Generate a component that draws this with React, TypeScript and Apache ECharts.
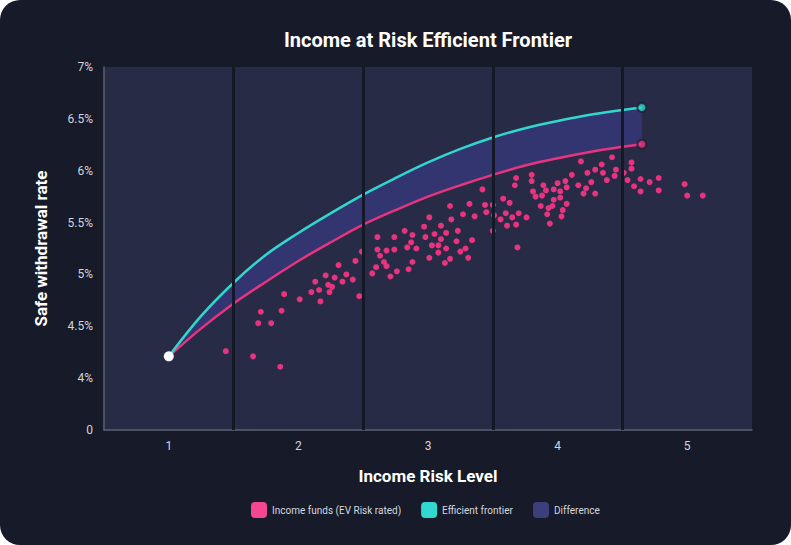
import React, { useEffect, useRef } from 'react';
import * as echarts from 'echarts';

// frontier curves (income risk level -> safe withdrawal rate %)
const curveX = [1, 1.25, 1.5, 1.75, 2, 2.25, 2.5, 2.75, 3, 3.25, 3.5, 3.75, 4, 4.25, 4.5, 4.65];
const fundsCurve = [4.21, 4.48, 4.72, 4.93, 5.13, 5.31, 5.48, 5.62, 5.75, 5.86, 5.96, 6.05, 6.12, 6.18, 6.23, 6.255];
const frontierCurve = [4.21, 4.6, 4.92, 5.19, 5.4, 5.59, 5.77, 5.93, 6.08, 6.21, 6.32, 6.41, 6.48, 6.54, 6.585, 6.61];

// individual income funds
const fundPoints: number[][] = [
  [1.44, 4.26], [1.65, 4.21], [1.86, 4.11], [1.71, 4.64], [1.69, 4.53], [1.79, 4.53],
  [1.87, 4.65], [1.89, 4.81], [2.01, 4.76], [2.1, 4.83], [2.13, 4.93], [2.16, 4.85],
  [2.17, 4.74], [2.21, 4.99], [2.23, 4.9], [2.24, 4.83], [2.26, 4.88], [2.28, 4.97],
  [2.31, 5.09], [2.34, 4.93], [2.37, 5.0], [2.42, 4.95], [2.44, 5.13], [2.49, 5.22],
  [2.47, 4.79], [2.57, 5.01], [2.6, 5.07], [2.61, 5.24], [2.61, 5.36], [2.63, 5.18],
  [2.66, 5.12], [2.68, 5.08], [2.68, 5.23], [2.71, 4.98], [2.74, 5.36], [2.74, 5.24],
  [2.76, 5.03], [2.82, 5.42], [2.84, 5.26], [2.87, 5.31], [2.88, 5.38], [2.88, 5.12],
  [2.85, 5.05], [2.91, 5.25], [2.97, 5.46], [2.98, 5.36], [3.01, 5.55], [3.01, 5.16],
  [3.03, 5.28], [3.05, 5.39], [3.08, 5.21], [3.08, 5.28], [3.1, 5.47], [3.1, 5.34],
  [3.13, 5.11], [3.14, 5.4], [3.14, 5.25], [3.17, 5.66], [3.17, 5.15], [3.18, 5.53],
  [3.22, 5.32], [3.23, 5.42], [3.25, 5.22], [3.27, 5.58], [3.29, 5.25], [3.31, 5.16],
  [3.32, 5.68], [3.34, 5.33], [3.36, 5.56], [3.42, 5.82], [3.44, 5.67], [3.45, 5.6],
  [3.5, 5.67], [3.5, 5.42], [3.51, 5.57], [3.56, 5.53], [3.58, 5.73], [3.6, 5.59],
  [3.61, 5.47], [3.63, 5.69], [3.65, 5.55], [3.67, 5.86], [3.68, 5.93], [3.68, 5.48],
  [3.69, 5.26], [3.7, 5.59], [3.76, 5.55], [3.8, 5.9], [3.8, 5.96], [3.81, 5.8],
  [3.83, 5.75], [3.87, 5.66], [3.88, 5.76], [3.89, 5.86], [3.91, 5.81], [3.92, 5.58],
  [3.93, 5.64], [3.94, 5.49], [3.96, 5.66], [3.97, 5.72], [3.97, 5.82], [4.0, 5.88],
  [4.02, 5.8], [4.02, 5.74], [4.03, 5.56], [4.04, 5.62], [4.06, 5.9], [4.07, 5.84],
  [4.07, 5.68], [4.11, 5.96], [4.16, 5.86], [4.18, 6.09], [4.2, 5.78], [4.22, 5.83],
  [4.23, 5.98], [4.26, 5.89], [4.29, 5.78], [4.29, 6.01], [4.34, 6.06], [4.35, 5.98],
  [4.38, 5.91], [4.42, 6.13], [4.44, 5.95], [4.45, 6.01], [4.51, 5.98], [4.54, 5.91],
  [4.57, 6.08], [4.57, 6.02], [4.59, 5.85], [4.64, 5.92], [4.64, 5.8], [4.71, 5.89],
  [4.78, 5.93], [4.78, 5.81], [4.98, 5.87], [5.0, 5.76], [5.12, 5.76],
];

// risk level band boundaries
const bandEdges = [1.5, 2.5, 3.5, 4.5];

const legendNames = ['Income funds (EV Risk rated)', 'Efficient frontier', 'Difference'];

const PINK = '#e8337f';
const TEAL = '#33d6cc';
const FONT = 'Roboto';
const SMOOTH = 0.35;

const App: React.FC = () => {
  const chartRef = useRef<HTMLDivElement>(null);

  useEffect(() => {
    const chart = echarts.init(chartRef.current!, null, { renderer: 'svg' });

    const last = curveX.length - 1;
    const pinkLine = curveX.map((x, i) => [x, fundsCurve[i]]);
    const tealLine = curveX.map((x, i) => [x, frontierCurve[i]]);
    // stacked band: value first so the stack runs on y, x read through encode
    const bandBase = curveX.map((x, i) => [fundsCurve[i], x]);
    const bandGap = curveX.map((x, i) => [+(frontierCurve[i] - fundsCurve[i]).toFixed(3), x]);

    const options = {
      animation: false,
      backgroundColor: 'transparent',
      textStyle: { fontFamily: FONT },
      graphic: [
        {
          type: 'text',
          x: 428,
          y: 40,
          style: {
            text: 'Income at Risk Efficient Frontier',
            fill: '#ffffff',
            fontSize: 20,
            fontWeight: 'bold',
            fontFamily: FONT,
            align: 'center',
            verticalAlign: 'middle',
          },
        },
      ],
      grid: {
        left: 104,
        right: 39,
        top: 67,
        bottom: 115,
        show: true,
        backgroundColor: '#272b45',
        borderWidth: 0,
      },
      legend: {
        bottom: 22,
        left: 246,
        itemWidth: 16,
        itemHeight: 16,
        itemGap: 20,
        icon: 'roundRect',
        textStyle: { color: '#d6d7de', fontSize: 10, fontFamily: FONT },
        data: [
          { name: legendNames[0], itemStyle: { color: '#f4478f' } },
          { name: legendNames[1], itemStyle: { color: '#31d8d0' } },
          { name: legendNames[2], itemStyle: { color: '#3d3f7c' } },
        ],
        selectedMode: false,
      },
      xAxis: {
        type: 'value',
        min: 0.5,
        max: 5.5,
        interval: 0.5,
        name: 'Income Risk Level',
        nameLocation: 'middle',
        nameGap: 37,
        nameTextStyle: { color: '#ffffff', fontSize: 17, fontWeight: 'bold', fontFamily: FONT },
        axisLine: { show: true, lineStyle: { color: '#5d6174', width: 1.5 } },
        axisTick: { show: false },
        splitLine: { show: false },
        axisLabel: {
          color: '#d3d5dc',
          fontSize: 12,
          margin: 10,
          formatter: (v: number) => (v % 1 === 0 ? String(v) : ''),
        },
      },
      yAxis: {
        type: 'value',
        min: 3.5,
        max: 7,
        interval: 0.5,
        name: 'Safe withdrawal rate',
        nameLocation: 'middle',
        nameGap: 55,
        nameTextStyle: { color: '#ffffff', fontSize: 17, fontWeight: 'bold', fontFamily: FONT },
        axisLine: { show: true, lineStyle: { color: '#5d6174', width: 1.5 } },
        axisTick: { show: false },
        splitLine: { show: false },
        axisLabel: {
          color: '#d3d5dc',
          fontSize: 12,
          margin: 11,
          formatter: (v: number) => (v === 3.5 ? '0' : v + '%'),
        },
      },
      series: [
        {
          // band separators
          type: 'line',
          data: [],
          z: 1,
          silent: true,
          markLine: {
            silent: true,
            symbol: 'none',
            label: { show: false },
            lineStyle: { color: '#151826', width: 3, type: 'solid' },
            data: bandEdges.map((x) => ({ xAxis: x })),
          },
        },
        {
          name: '_base',
          type: 'line',
          stack: 'band',
          smooth: SMOOTH,
          symbol: 'none',
          encode: { x: 1, y: 0 },
          lineStyle: { opacity: 0 },
          data: bandBase,
          z: 2,
          silent: true,
        },
        {
          name: legendNames[2],
          type: 'line',
          stack: 'band',
          smooth: SMOOTH,
          symbol: 'none',
          encode: { x: 1, y: 0 },
          lineStyle: { opacity: 0 },
          areaStyle: { color: 'rgba(54,56,123,0.8)', opacity: 1 },
          data: bandGap,
          z: 2,
          silent: true,
        },
        {
          name: legendNames[0],
          type: 'scatter',
          symbolSize: 6,
          itemStyle: { color: PINK, opacity: 1 },
          data: fundPoints,
          z: 3,
        },
        {
          name: legendNames[0],
          type: 'line',
          smooth: SMOOTH,
          symbol: 'none',
          lineStyle: { color: PINK, width: 2.5 },
          data: pinkLine,
          z: 4,
        },
        {
          name: legendNames[1],
          type: 'line',
          smooth: SMOOTH,
          symbol: 'none',
          lineStyle: { color: TEAL, width: 2.5 },
          data: tealLine,
          z: 4,
        },
        {
          // curve end markers
          name: '_ends',
          type: 'scatter',
          z: 5,
          data: [
            {
              value: pinkLine[last],
              symbolSize: 9,
              itemStyle: { color: PINK, borderColor: '#1b1e2e', borderWidth: 2 },
            },
            {
              value: tealLine[last],
              symbolSize: 9,
              itemStyle: { color: TEAL, borderColor: '#1b1e2e', borderWidth: 2 },
            },
            {
              value: pinkLine[0],
              symbolSize: 10,
              itemStyle: { color: '#ffffff', opacity: 1 },
            },
          ],
        },
      ],
    };

    chart.setOption(options);

    return () => {
      chart.dispose();
    };
  }, []);

  return (
    <div
      style={{
        position: 'fixed',
        left: 0,
        top: 0,
        width: 791,
        height: 545,
        background: '#171a29',
        borderRadius: 20,
        overflow: 'hidden',
      }}
    >
      <div ref={chartRef} style={{ width: 791, height: 545 }} />
    </div>
  );
};

export default App;
